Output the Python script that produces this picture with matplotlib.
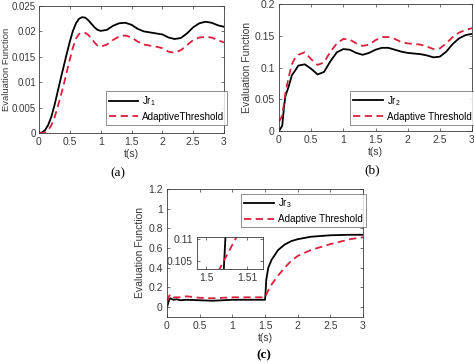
import matplotlib
matplotlib.use("Agg")
import matplotlib.pyplot as plt

# ---------- data ----------
t_a = [0, 0.05, 0.1, 0.15, 0.2, 0.25, 0.3, 0.35, 0.4, 0.45, 0.5, 0.55, 0.6, 0.65, 0.7, 0.75, 0.8, 0.85, 0.9, 0.95,
       1.0, 1.1, 1.2, 1.3, 1.4, 1.5, 1.6, 1.7, 1.8, 1.9, 2.0, 2.1, 2.2, 2.3, 2.4, 2.5, 2.6, 2.7, 2.8, 2.9, 3.0]
jr1 = [0, 0.0001, 0.0006, 0.0016, 0.0032, 0.0054, 0.008, 0.0106, 0.0131, 0.0156, 0.018, 0.0201, 0.0216, 0.0225, 0.0228, 0.0227, 0.0222, 0.0215, 0.0208, 0.0203,
       0.0201, 0.0203, 0.0211, 0.0216, 0.0217, 0.0213, 0.0205, 0.0200, 0.0198, 0.0196, 0.0194, 0.0188, 0.0185, 0.0187, 0.0196, 0.0208, 0.0216, 0.0219, 0.0217, 0.0212, 0.0209]
thr1 = [0, 0.0, 0.0001, 0.0006, 0.0015, 0.003, 0.005, 0.0072, 0.0095, 0.012, 0.0145, 0.0168, 0.0186, 0.0195, 0.0198, 0.0197, 0.0193, 0.0186, 0.0178, 0.0172,
        0.0170, 0.0174, 0.0183, 0.0190, 0.0192, 0.0188, 0.0180, 0.0174, 0.0172, 0.0170, 0.0167, 0.0160, 0.0158, 0.0163, 0.0173, 0.0183, 0.0188, 0.0189, 0.0188, 0.0183, 0.0178]

t_b = [0, 0.03, 0.05, 0.08, 0.1, 0.15, 0.2, 0.25, 0.3, 0.4, 0.5, 0.6, 0.7, 0.8, 0.9, 1.0, 1.1, 1.2, 1.3, 1.4, 1.5,
       1.6, 1.7, 1.8, 1.9, 2.0, 2.1, 2.2, 2.3, 2.4, 2.5, 2.6, 2.7, 2.8, 2.9, 3.0]
jr2 = [0.0, 0.005, 0.008, 0.04, 0.055, 0.07, 0.088, 0.095, 0.103, 0.105, 0.098, 0.089, 0.093, 0.110, 0.124, 0.129, 0.128, 0.123, 0.120, 0.123, 0.128,
       0.131, 0.131, 0.128, 0.125, 0.123, 0.122, 0.121, 0.119, 0.116, 0.117, 0.125, 0.137, 0.146, 0.151, 0.153]
thr2 = [0.015, 0.02, 0.025, 0.045, 0.06, 0.085, 0.105, 0.115, 0.120, 0.124, 0.113, 0.104, 0.108, 0.125, 0.138, 0.145, 0.144, 0.138, 0.134, 0.136, 0.143,
        0.148, 0.148, 0.145, 0.140, 0.138, 0.137, 0.136, 0.133, 0.129, 0.130, 0.138, 0.148, 0.155, 0.159, 0.162]

t_c = [0, 0.03, 0.05, 0.1, 0.15, 0.2, 0.3, 0.5, 0.7, 1.0, 1.3, 1.5, 1.505, 1.52, 1.55, 1.6, 1.7, 1.8, 1.9, 2.0, 2.2, 2.5, 2.8, 3.0]
jr3 = [0.0, 0.07, 0.09, 0.075, 0.08, 0.07, 0.075, 0.07, 0.065, 0.075, 0.075, 0.075, 0.11, 0.28, 0.40, 0.48, 0.58, 0.635, 0.67, 0.69, 0.715, 0.73, 0.735, 0.735]
thr3 = [0.06, 0.11, 0.13, 0.10, 0.10, 0.10, 0.11, 0.095, 0.09, 0.10, 0.10, 0.10, 0.105, 0.13, 0.17, 0.23, 0.32, 0.40, 0.47, 0.52, 0.58, 0.64, 0.69, 0.71]

t_in_jr = [1.5043, 1.5048]
y_in_jr = [0.1025, 0.1115]
t_in_thr = [1.5030, 1.5079]
y_in_thr = [0.1028, 0.1112]

labels_a = ["Jr$_1$", "AdaptiveThreshold"]
labels_b = ["Jr$_2$", "Adaptive Threshold"]
labels_c = ["Jr$_3$", "Adaptive Threshold"]
xticks = [0, 0.5, 1, 1.5, 2, 2.5, 3]
xticklabels = ["0", "0.5", "1", "1.5", "2", "2.5", "3"]

# ---------- style ----------
plt.rcParams['font.family'] = ['Liberation Sans', 'DejaVu Sans']
plt.rcParams['mathtext.fontset'] = 'custom'
plt.rcParams['mathtext.rm'] = 'Liberation Sans'
plt.rcParams['mathtext.it'] = 'Liberation Sans'
GRAY = '#3a3a3a'
RED = '#dc1f3c'
FS = 7.5

fig = plt.figure(figsize=(4.74, 3.64), dpi=100)


def style(ax, fs=FS):
    for s in ax.spines.values():
        s.set_color(GRAY)
        s.set_linewidth(0.6)
    ax.tick_params(direction='in', length=2.5, width=0.5, colors=GRAY, labelsize=fs,
                   top=True, right=True, pad=3)


def panel(ax, t, a, b, labels, ylim, yticks, yticklabels, legpos):
    ax.plot(t, a, color='black', lw=1.3, label=labels[0])
    ax.plot(t, b, color=RED, lw=1.3, ls=(0, (4, 2.5)), label=labels[1])
    ax.set_xlim(0, 3)
    ax.set_ylim(*ylim)
    ax.set_xticks(xticks)
    ax.set_xticklabels(xticklabels)
    ax.set_yticks(yticks)
    ax.set_yticklabels(yticklabels)
    style(ax)
    ax.set_xlabel('t(s)', fontsize=FS, color=GRAY, labelpad=1.5)
    ax.set_ylabel('Evaluation Function', fontsize=FS, color=GRAY, labelpad=2)
    leg = ax.legend(loc='lower left', bbox_to_anchor=legpos, fontsize=FS - 0.4, frameon=True,
                    fancybox=False, edgecolor=GRAY, handlelength=3.0, handletextpad=0.4,
                    borderpad=0.3, labelspacing=0.4, borderaxespad=0)
    leg.get_frame().set_linewidth(0.5)
    for txt in leg.get_texts():
        txt.set_color('black')
    return ax


ax_a = fig.add_axes([39/474, 1-133/364, 185/474, 127/364])
panel(ax_a, t_a, jr1, thr1, labels_a, (0, 0.025), [0, 0.005, 0.01, 0.015, 0.02, 0.025],
      ["0", "0.005", "0.01", "0.015", "0.02", "0.025"], (0.36, 0.065))
ax_a.tick_params(axis='y', labelsize=7.0, pad=2)
ax_a.yaxis.label.set_fontsize(6.8)
ax_a.yaxis.set_label_coords(-28/185, 0.5)

ax_b = fig.add_axes([279/474, 1-131/364, 193/474, 127/364])
panel(ax_b, t_b, jr2, thr2, labels_b, (0, 0.2), [0, 0.05, 0.1, 0.15, 0.2],
      ["0", "0.05", "0.1", "0.15", "0.2"], (0.37, 0.05))

ax_c = fig.add_axes([167/474, 1-317/364, 196/474, 128/364])
panel(ax_c, t_c, jr3, thr3, labels_c, (-0.1, 1.2), [0, 0.2, 0.4, 0.6, 0.8, 1, 1.2],
      ["0", "0.2", "0.4", "0.6", "0.8", "1", "1.2"], (0.38, 0.70))

ax_in = fig.add_axes([197/474, 1-269/364, 66/474, 32/364])
ax_in.plot(t_in_jr, y_in_jr, color='black', lw=1.3)
ax_in.plot(t_in_thr, y_in_thr, color=RED, lw=1.3, ls=(0, (4, 2.5)))
ax_in.set_xlim(1.4978, 1.5139)
ax_in.set_ylim(0.1033, 0.1104)
ax_in.set_xticks([1.5, 1.51])
ax_in.set_xticklabels(["1.5", "1.51"])
ax_in.set_yticks([0.105, 0.11])
ax_in.set_yticklabels(["0.105", "0.11"])
style(ax_in)

fig.text(118/474, 1-173/364, '(a)', family=['Liberation Serif', 'DejaVu Serif'], fontsize=9.5, ha='center', va='center')
fig.text(372/474, 1-170/364, '(b)', family=['Liberation Serif', 'DejaVu Serif'], fontsize=9.5, ha='center', va='center')
fig.text(264/474, 1-355/364, '(c)', family=['Liberation Serif', 'DejaVu Serif'], fontsize=9.5, fontweight='bold', ha='center', va='center')

fig.savefig('out.png', dpi=100)
